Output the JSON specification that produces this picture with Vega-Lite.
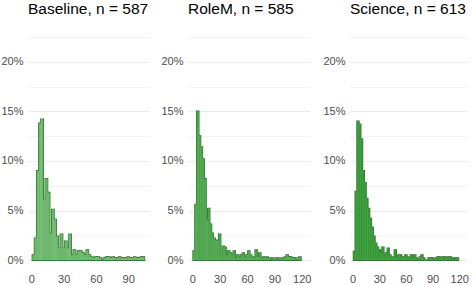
{
  "$schema": "https://vega.github.io/schema/vega-lite/v6.json",
  "padding": {"left": 0, "top": 1, "right": 4, "bottom": 0},
  "spacing": 11,
  "datasets": {
    "baseline": [
      {"lo": 1, "hi": 3, "pct": 0.5}, {"lo": 3, "hi": 5, "pct": 2.2}, {"lo": 5, "hi": 7, "pct": 9.0}, {"lo": 7, "hi": 9, "pct": 13.8},
      {"lo": 9, "hi": 11, "pct": 14.2}, {"lo": 11, "hi": 13, "pct": 6.1}, {"lo": 13, "hi": 15, "pct": 8.2}, {"lo": 15, "hi": 17, "pct": 6.8},
      {"lo": 17, "hi": 19, "pct": 2.7}, {"lo": 19, "hi": 21, "pct": 5.1}, {"lo": 21, "hi": 23, "pct": 4.1}, {"lo": 23, "hi": 25, "pct": 2.4},
      {"lo": 25, "hi": 27, "pct": 1.2}, {"lo": 27, "hi": 29, "pct": 2.6}, {"lo": 29, "hi": 31, "pct": 1.2}, {"lo": 31, "hi": 33, "pct": 1.9},
      {"lo": 33, "hi": 35, "pct": 1.2}, {"lo": 35, "hi": 37, "pct": 2.6}, {"lo": 37, "hi": 39, "pct": 0.5}, {"lo": 39, "hi": 41, "pct": 1.0},
      {"lo": 41, "hi": 43, "pct": 0.5}, {"lo": 43, "hi": 45, "pct": 0.9}, {"lo": 45, "hi": 47, "pct": 0.9}, {"lo": 47, "hi": 49, "pct": 0.7},
      {"lo": 49, "hi": 51, "pct": 0.5}, {"lo": 51, "hi": 53, "pct": 1.0}, {"lo": 53, "hi": 55, "pct": 0.5}, {"lo": 55, "hi": 57, "pct": 0.3},
      {"lo": 57, "hi": 59, "pct": 0.2}, {"lo": 59, "hi": 61, "pct": 0.3}, {"lo": 61, "hi": 63, "pct": 0.3}, {"lo": 63, "hi": 65, "pct": 0.2},
      {"lo": 65, "hi": 67, "pct": 0}, {"lo": 67, "hi": 69, "pct": 0.2}, {"lo": 69, "hi": 71, "pct": 0.3}, {"lo": 71, "hi": 73, "pct": 0.3},
      {"lo": 73, "hi": 75, "pct": 0.2}, {"lo": 75, "hi": 77, "pct": 0.3}, {"lo": 77, "hi": 79, "pct": 0.2}, {"lo": 79, "hi": 81, "pct": 0.2},
      {"lo": 81, "hi": 83, "pct": 0.3}, {"lo": 83, "hi": 85, "pct": 0.2}, {"lo": 85, "hi": 87, "pct": 0.2}, {"lo": 87, "hi": 89, "pct": 0.2},
      {"lo": 89, "hi": 91, "pct": 0.3}, {"lo": 91, "hi": 93, "pct": 0.2}, {"lo": 93, "hi": 95, "pct": 0.2}, {"lo": 95, "hi": 97, "pct": 0.3},
      {"lo": 97, "hi": 99, "pct": 0.2}, {"lo": 99, "hi": 101, "pct": 0.2}, {"lo": 101, "hi": 103, "pct": 0.3}, {"lo": 103, "hi": 105, "pct": 0.3}
    ],
    "rolem": [
      {"lo": 1, "hi": 3, "pct": 0.9}, {"lo": 3, "hi": 5, "pct": 5.6}, {"lo": 5, "hi": 7, "pct": 15.0}, {"lo": 7, "hi": 9, "pct": 12.5},
      {"lo": 9, "hi": 11, "pct": 11.4}, {"lo": 11, "hi": 13, "pct": 10.2}, {"lo": 13, "hi": 15, "pct": 8.2}, {"lo": 15, "hi": 17, "pct": 4.1},
      {"lo": 17, "hi": 19, "pct": 5.2}, {"lo": 19, "hi": 21, "pct": 3.6}, {"lo": 21, "hi": 23, "pct": 2.7}, {"lo": 23, "hi": 25, "pct": 2.2},
      {"lo": 25, "hi": 27, "pct": 2.0}, {"lo": 27, "hi": 29, "pct": 1.9}, {"lo": 29, "hi": 31, "pct": 2.6}, {"lo": 31, "hi": 33, "pct": 0.5},
      {"lo": 33, "hi": 35, "pct": 1.4}, {"lo": 35, "hi": 37, "pct": 1.3}, {"lo": 37, "hi": 39, "pct": 0.5}, {"lo": 39, "hi": 41, "pct": 0.9},
      {"lo": 41, "hi": 43, "pct": 0.7}, {"lo": 43, "hi": 45, "pct": 0.5}, {"lo": 45, "hi": 47, "pct": 0.9}, {"lo": 47, "hi": 49, "pct": 0.2},
      {"lo": 49, "hi": 51, "pct": 0.5}, {"lo": 51, "hi": 53, "pct": 0.3}, {"lo": 53, "hi": 55, "pct": 0.5}, {"lo": 55, "hi": 57, "pct": 0.7},
      {"lo": 57, "hi": 59, "pct": 0.3}, {"lo": 59, "hi": 61, "pct": 0.5}, {"lo": 61, "hi": 63, "pct": 0.9}, {"lo": 63, "hi": 65, "pct": 0.5},
      {"lo": 65, "hi": 67, "pct": 0.2}, {"lo": 67, "hi": 69, "pct": 0.3}, {"lo": 69, "hi": 71, "pct": 1.0}, {"lo": 71, "hi": 73, "pct": 0.3},
      {"lo": 73, "hi": 75, "pct": 0.7}, {"lo": 75, "hi": 77, "pct": 0.2}, {"lo": 77, "hi": 79, "pct": 0.3}, {"lo": 79, "hi": 81, "pct": 0.2},
      {"lo": 81, "hi": 83, "pct": 0.3}, {"lo": 83, "hi": 85, "pct": 0.2}, {"lo": 85, "hi": 87, "pct": 0}, {"lo": 87, "hi": 89, "pct": 0.2},
      {"lo": 89, "hi": 91, "pct": 0}, {"lo": 91, "hi": 93, "pct": 0.2}, {"lo": 93, "hi": 95, "pct": 0}, {"lo": 95, "hi": 97, "pct": 0.2},
      {"lo": 97, "hi": 99, "pct": 0}, {"lo": 99, "hi": 101, "pct": 0.2}, {"lo": 101, "hi": 103, "pct": 0.3}, {"lo": 103, "hi": 105, "pct": 0.5},
      {"lo": 105, "hi": 107, "pct": 0.3}, {"lo": 107, "hi": 109, "pct": 0.3}, {"lo": 109, "hi": 111, "pct": 0.2}, {"lo": 111, "hi": 113, "pct": 0.2},
      {"lo": 113, "hi": 115, "pct": 0}, {"lo": 115, "hi": 117, "pct": 0.2}, {"lo": 117, "hi": 119, "pct": 0.3}
    ],
    "science": [
      {"lo": 1, "hi": 3, "pct": 0.85}, {"lo": 3, "hi": 5, "pct": 6.9}, {"lo": 5, "hi": 7, "pct": 14.0}, {"lo": 7, "hi": 9, "pct": 13.7},
      {"lo": 9, "hi": 11, "pct": 12.2}, {"lo": 11, "hi": 13, "pct": 9.0}, {"lo": 13, "hi": 15, "pct": 7.8}, {"lo": 15, "hi": 17, "pct": 6.2},
      {"lo": 17, "hi": 19, "pct": 5.2}, {"lo": 19, "hi": 21, "pct": 4.2}, {"lo": 21, "hi": 23, "pct": 3.3}, {"lo": 23, "hi": 25, "pct": 2.4},
      {"lo": 25, "hi": 27, "pct": 1.7}, {"lo": 27, "hi": 29, "pct": 1.3}, {"lo": 29, "hi": 31, "pct": 1.0}, {"lo": 31, "hi": 33, "pct": 0.7},
      {"lo": 33, "hi": 35, "pct": 1.3}, {"lo": 35, "hi": 37, "pct": 0.5}, {"lo": 37, "hi": 39, "pct": 0.7}, {"lo": 39, "hi": 41, "pct": 1.2},
      {"lo": 41, "hi": 43, "pct": 0.5}, {"lo": 43, "hi": 45, "pct": 0.3}, {"lo": 45, "hi": 47, "pct": 0.2}, {"lo": 47, "hi": 49, "pct": 1.0},
      {"lo": 49, "hi": 51, "pct": 0.3}, {"lo": 51, "hi": 53, "pct": 0.5}, {"lo": 53, "hi": 55, "pct": 0.5}, {"lo": 55, "hi": 57, "pct": 0.3},
      {"lo": 57, "hi": 59, "pct": 0.2}, {"lo": 59, "hi": 61, "pct": 0.5}, {"lo": 61, "hi": 63, "pct": 0.3}, {"lo": 63, "hi": 65, "pct": 0.2},
      {"lo": 65, "hi": 67, "pct": 0.5}, {"lo": 67, "hi": 69, "pct": 0.2}, {"lo": 69, "hi": 71, "pct": 0.5}, {"lo": 71, "hi": 73, "pct": 0.2},
      {"lo": 73, "hi": 75, "pct": 0}, {"lo": 75, "hi": 77, "pct": 0.3}, {"lo": 77, "hi": 79, "pct": 0.5}, {"lo": 79, "hi": 81, "pct": 0.2},
      {"lo": 81, "hi": 83, "pct": 0}, {"lo": 83, "hi": 85, "pct": 0}, {"lo": 85, "hi": 87, "pct": 0.2}, {"lo": 87, "hi": 89, "pct": 0.2},
      {"lo": 89, "hi": 91, "pct": 0.2}, {"lo": 91, "hi": 93, "pct": 0}, {"lo": 93, "hi": 95, "pct": 0.2}, {"lo": 95, "hi": 97, "pct": 0.3},
      {"lo": 97, "hi": 99, "pct": 0.3}, {"lo": 99, "hi": 101, "pct": 0.2}, {"lo": 101, "hi": 103, "pct": 0.3}, {"lo": 103, "hi": 105, "pct": 0.3},
      {"lo": 105, "hi": 107, "pct": 0.2}, {"lo": 107, "hi": 109, "pct": 0.3}, {"lo": 109, "hi": 111, "pct": 0.3}, {"lo": 111, "hi": 113, "pct": 0.2},
      {"lo": 113, "hi": 115, "pct": 0}, {"lo": 115, "hi": 117, "pct": 0.2}, {"lo": 117, "hi": 119, "pct": 0.2}
    ]
  },
  "config": {
    "view": {"stroke": null},
    "font": "Liberation Sans",
    "axis": {"domain": false, "ticks": false, "labelColor": "#4d4d4d", "labelFontSize": 11, "labelFont": "Liberation Sans", "title": null, "gridColor": "#ebebeb"},
    "title": {"anchor": "start", "frame": "group", "fontSize": 15.5, "fontWeight": "normal", "color": "#000000", "font": "Liberation Sans", "offset": 12}
  },
  "hconcat": [
    {
      "title": "Baseline, n = 587",
      "width": 121, "height": 242,
      "data": {"name": "baseline"},
      "encoding": {
        "x": {"field": "lo", "type": "quantitative", "scale": {"domain": [-3.1, 109.3], "nice": false, "zero": false}, "axis": {"values": [0, 30, 60, 90], "grid": false, "labelPadding": 2}},
        "x2": {"field": "hi"},
        "y": {"field": "pct", "type": "quantitative", "scale": {"domain": [-1.1, 23.3], "nice": false, "zero": false}, "axis": {"values": [0, 2.5, 5, 7.5, 10, 12.5, 15, 17.5, 20, 22.5], "labelExpr": "datum.value % 5 === 0 ? datum.value + '%' : ''", "labelPadding": 5, "gridWidth": {"condition": {"test": "datum.value % 5 === 0", "value": 1}, "value": 0.6}}},
        "y2": {"datum": 0}
      },
      "layer": [
        {"mark": {"type": "bar", "fill": "#6bb86b", "stroke": "#1f6e1f", "strokeWidth": 1.6}},
        {"mark": {"type": "bar", "fill": "#6bb86b", "stroke": "#ffffff", "strokeOpacity": 0.3, "strokeWidth": 0.4}}
      ]
    },
    {
      "title": "RoleM, n = 585",
      "width": 122, "height": 242,
      "data": {"name": "rolem"},
      "encoding": {
        "x": {"field": "lo", "type": "quantitative", "scale": {"domain": [-4.7, 129], "nice": false, "zero": false}, "axis": {"values": [0, 30, 60, 90, 120], "grid": false, "labelPadding": 2}},
        "x2": {"field": "hi"},
        "y": {"field": "pct", "type": "quantitative", "scale": {"domain": [-1.1, 23.3], "nice": false, "zero": false}, "axis": {"values": [0, 2.5, 5, 7.5, 10, 12.5, 15, 17.5, 20, 22.5], "labelExpr": "datum.value % 5 === 0 ? datum.value + '%' : ''", "labelPadding": 5, "gridWidth": {"condition": {"test": "datum.value % 5 === 0", "value": 1}, "value": 0.6}}},
        "y2": {"datum": 0}
      },
      "layer": [
        {"mark": {"type": "bar", "fill": "#45a545", "stroke": "#1f6e1f", "strokeWidth": 1.6}},
        {"mark": {"type": "bar", "fill": "#45a545", "stroke": "#ffffff", "strokeOpacity": 0.3, "strokeWidth": 0.4}}
      ]
    },
    {
      "title": "Science, n = 613",
      "width": 117, "height": 242,
      "data": {"name": "science"},
      "encoding": {
        "x": {"field": "lo", "type": "quantitative", "scale": {"domain": [-3.0, 128.7], "nice": false, "zero": false}, "axis": {"values": [0, 30, 60, 90, 120], "grid": false, "labelPadding": 2}},
        "x2": {"field": "hi"},
        "y": {"field": "pct", "type": "quantitative", "scale": {"domain": [-1.1, 23.3], "nice": false, "zero": false}, "axis": {"values": [0, 2.5, 5, 7.5, 10, 12.5, 15, 17.5, 20, 22.5], "labelExpr": "datum.value % 5 === 0 ? datum.value + '%' : ''", "labelPadding": 5, "gridWidth": {"condition": {"test": "datum.value % 5 === 0", "value": 1}, "value": 0.6}}},
        "y2": {"datum": 0}
      },
      "layer": [
        {"mark": {"type": "bar", "fill": "#2a962a", "stroke": "#1f6e1f", "strokeWidth": 1.6}},
        {"mark": {"type": "bar", "fill": "#2a962a", "stroke": "#ffffff", "strokeOpacity": 0.3, "strokeWidth": 0.4}}
      ]
    }
  ]
}
